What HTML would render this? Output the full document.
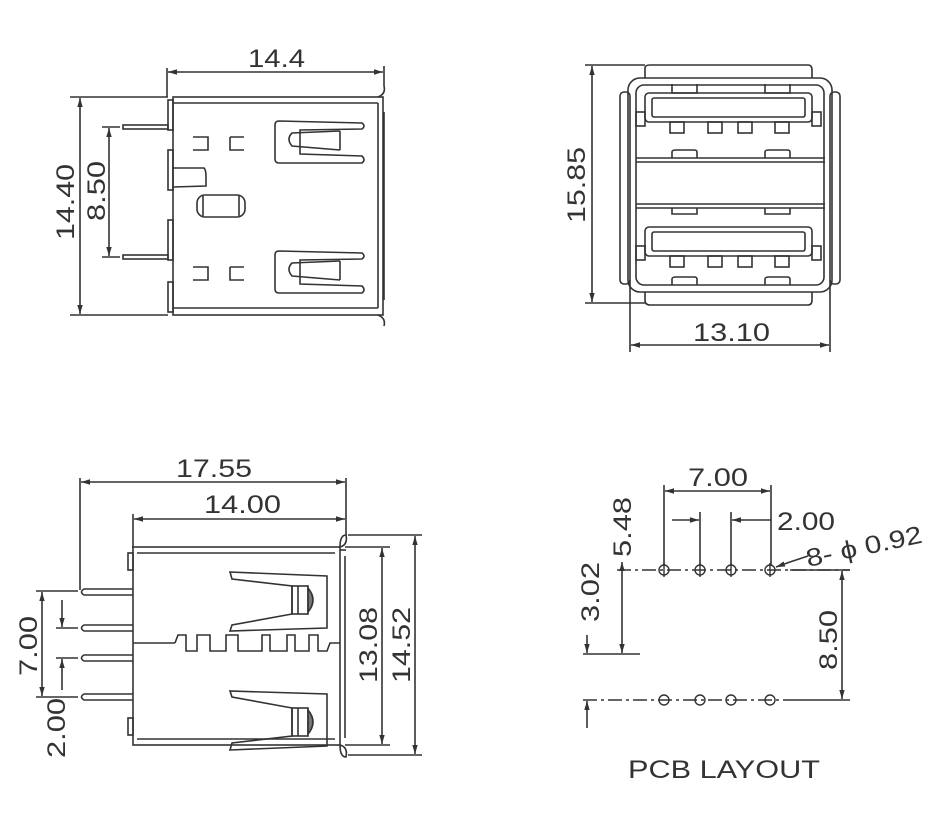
<!DOCTYPE html>
<html><head><meta charset="utf-8"><style>
html,body{margin:0;padding:0;background:#fff;}
svg{display:block;}
text{font-family:"Liberation Sans",sans-serif;fill:#333;}
</style></head><body>
<svg width="950" height="831" viewBox="0 0 950 831" xmlns="http://www.w3.org/2000/svg">
<defs>
<marker id="a" viewBox="0 0 10 10" refX="10" refY="5" markerWidth="9" markerHeight="9" orient="auto-start-reverse" markerUnits="userSpaceOnUse"><path d="M0,2 L10,5 L0,8 Z" fill="#333"/></marker>
<g id="tc">
<path d="M362,123 L279,121 Q275,121 275,125 L275,159 Q275,163 279,163 L362,163 Q366,160 362,156 L300,154 L300,130 L362,129 Q366,126 362,123 Z"/>
<path d="M340,131 L292,133 Q286,139 292,146 L340,150"/><line x1="340" y1="131" x2="340" y2="150"/>
</g>
<g id="bc">
<path d="M230,572 L327,576 L327,628 L230,631 L232,625 L292,614 L292,586 L232,579 Z"/>
<rect x="292" y="586" width="16" height="28"/><line x1="298" y1="586" x2="298" y2="614"/>
<path d="M308,588 Q318,600 308,612 Z" fill="#777"/>
</g>
</defs>
<g stroke="#333" stroke-width="1.6" fill="none">
<!-- TOP LEFT VIEW -->
<line x1="167" y1="68" x2="167" y2="97"/><line x1="384" y1="66" x2="384" y2="86"/>
<line x1="168" y1="72" x2="383" y2="72" marker-start="url(#a)" marker-end="url(#a)"/>
<rect x="173" y="97" width="210" height="218"/>
<line x1="173" y1="103" x2="378" y2="103"/><line x1="173" y1="308" x2="378" y2="308"/>
<line x1="378" y1="103" x2="378" y2="308"/>
<line x1="384" y1="112" x2="384" y2="300"/>
<path d="M378,97 Q386,94 384,86"/><path d="M378,315 Q386,318 384,326"/>
<rect x="168" y="100" width="5" height="30"/><rect x="168" y="150" width="5" height="40"/><rect x="168" y="220" width="5" height="40"/><rect x="168" y="282" width="5" height="30"/>
<rect x="123" y="125" width="45" height="4"/><rect x="123" y="255" width="45" height="4"/>
<line x1="70" y1="97" x2="168" y2="97"/><line x1="70" y1="315" x2="168" y2="315"/>
<line x1="80" y1="98" x2="80" y2="314" marker-start="url(#a)" marker-end="url(#a)"/>
<line x1="102" y1="127" x2="120" y2="127"/><line x1="102" y1="257" x2="120" y2="257"/>
<line x1="109" y1="128" x2="109" y2="256" marker-start="url(#a)" marker-end="url(#a)"/>
<path d="M173,168 L204,168 Q206,170 206,176 L206,186 L173,187"/>
<rect x="197" y="195" width="48" height="22" rx="8"/><line x1="203" y1="196" x2="203" y2="216"/><line x1="239" y1="196" x2="239" y2="216"/>
<path d="M193,137 L208,137 L208,150 L193,150 M230,137 L244,137 M230,137 L230,150 L244,150" />
<path d="M193,267 L208,267 L208,280 L193,280 M230,267 L244,267 M230,267 L230,280 L244,280" />
<use href="#tc"/><use href="#tc" transform="translate(0,130)"/>

<!-- TOP RIGHT VIEW -->
<line x1="585" y1="65" x2="645" y2="65"/><line x1="585" y1="303" x2="645" y2="303"/>
<line x1="592" y1="66" x2="592" y2="302" marker-start="url(#a)" marker-end="url(#a)"/>
<line x1="630" y1="280" x2="630" y2="352"/><line x1="830" y1="280" x2="830" y2="352"/>
<line x1="631" y1="345" x2="829" y2="345" marker-start="url(#a)" marker-end="url(#a)"/>
<rect x="628" y="78" width="204" height="214" rx="12"/>
<rect x="636" y="85" width="188" height="200" rx="8"/>
<path d="M645,78 L645,68 Q645,65 650,65 L808,65 Q812,65 812,70 L812,78"/>
<path d="M645,292 L645,300 Q645,305 650,305 L808,305 Q812,305 812,300 L812,292"/>
<rect x="620" y="92" width="10" height="192" rx="4"/><rect x="830" y="92" width="10" height="192" rx="4"/>
<line x1="636" y1="158" x2="825" y2="158"/><line x1="636" y1="162" x2="825" y2="162"/>
<line x1="636" y1="204" x2="825" y2="204"/><line x1="636" y1="208" x2="825" y2="208"/>
<g id="port">
<rect x="645" y="93" width="167" height="29" rx="4"/><rect x="652" y="98" width="153" height="19" rx="2"/>
<rect x="670" y="122" width="14" height="11"/><rect x="708" y="122" width="14" height="11"/><rect x="738" y="122" width="14" height="11"/><rect x="775" y="122" width="14" height="11"/>
<rect x="636" y="112" width="9" height="14"/><rect x="812" y="112" width="9" height="14"/>
</g>
<use href="#port" transform="translate(0,134)"/>
<path d="M672,84 L672,93 L697,93 L697,84"/><path d="M765,84 L765,93 L790,93 L790,84"/>
<path d="M672,158 L672,152 Q672,150 676,150 L694,150 Q697,150 697,152 L697,158"/><path d="M765,158 L765,152 Q765,150 769,150 L787,150 Q790,150 790,152 L790,158"/>
<path d="M672,208 L672,214 L697,214 L697,208"/><path d="M765,208 L765,214 L790,214 L790,208"/>
<path d="M672,285 L672,279 Q672,277 676,277 L694,277 Q697,277 697,279 L697,285"/><path d="M765,285 L765,279 Q765,277 769,277 L787,277 Q790,277 790,279 L790,285"/>

<!-- BOTTOM LEFT VIEW -->
<line x1="80" y1="478" x2="80" y2="590"/><line x1="346" y1="478" x2="346" y2="536"/>
<line x1="81" y1="482" x2="345" y2="482" marker-start="url(#a)" marker-end="url(#a)"/>
<line x1="133" y1="514" x2="133" y2="548"/>
<line x1="134" y1="519" x2="345" y2="519" marker-start="url(#a)" marker-end="url(#a)"/>
<rect x="133" y="547" width="207" height="198"/>
<line x1="137" y1="553" x2="335" y2="553"/><line x1="137" y1="739" x2="335" y2="739"/>
<line x1="340" y1="550" x2="346" y2="550"/><line x1="345" y1="556" x2="345" y2="738"/>
<path d="M340,547 Q348,545 346,535 Q340,535 340,547"/><path d="M340,745 Q348,747 346,757 Q340,757 340,745"/>
<rect x="128" y="553" width="5" height="17"/><rect x="128" y="718" width="5" height="17"/>
<path d="M133,589 L84,589 Q79,592 84,595 L133,595"/>
<path d="M133,625 L84,625 Q79,628 84,631 L133,631"/>
<path d="M133,655 L84,655 Q79,658 84,661 L133,661"/>
<path d="M133,694 L84,694 Q79,697 84,700 L133,700"/>
<line x1="133" y1="643" x2="175" y2="643"/>
<path d="M175,643 L178,635 L186,635 L186,651 L197,651 L197,635 L210,635 L210,651 L226,651 L226,635 L238,635 L238,651 L262,651 L262,635 L270,635 L270,651 L287,651 L287,635 L295,635 L295,651 L309,651 L309,635 L318,635 L318,651 L327,651 L330,643 L340,643"/>
<use href="#bc"/><use href="#bc" transform="translate(0,1322) scale(1,-1)"/>
<line x1="345" y1="547" x2="390" y2="547"/><line x1="345" y1="745" x2="390" y2="745"/>
<line x1="382" y1="548" x2="382" y2="744" marker-start="url(#a)" marker-end="url(#a)"/>
<line x1="348" y1="535" x2="422" y2="535"/><line x1="348" y1="755" x2="422" y2="755"/>
<line x1="415" y1="536" x2="415" y2="754" marker-start="url(#a)" marker-end="url(#a)"/>
<line x1="36" y1="591" x2="78" y2="591"/><line x1="36" y1="697" x2="78" y2="697"/>
<line x1="42" y1="592" x2="42" y2="696" marker-start="url(#a)" marker-end="url(#a)"/>
<line x1="56" y1="628" x2="78" y2="628"/><line x1="56" y1="658" x2="78" y2="658"/>
<line x1="62" y1="600" x2="62" y2="627" marker-end="url(#a)"/>
<line x1="62" y1="690" x2="62" y2="659" marker-end="url(#a)"/>

<!-- PCB LAYOUT -->
<line x1="664" y1="485" x2="664" y2="565"/><line x1="771" y1="485" x2="771" y2="565"/>
<line x1="665" y1="491" x2="770" y2="491" marker-start="url(#a)" marker-end="url(#a)"/>
<line x1="700" y1="512" x2="700" y2="565"/><line x1="731" y1="512" x2="731" y2="565"/>
<line x1="672" y1="520" x2="699" y2="520" marker-end="url(#a)"/>
<line x1="771" y1="520" x2="732" y2="520" marker-end="url(#a)"/>
<line x1="617" y1="570" x2="850" y2="570" stroke-dasharray="14,4,3,4"/>
<line x1="583" y1="700" x2="790" y2="700" stroke-dasharray="14,4,3,4"/>
<line x1="790" y1="570" x2="850" y2="570"/><line x1="790" y1="700" x2="850" y2="700"/>
<line x1="842" y1="571" x2="842" y2="699" marker-start="url(#a)" marker-end="url(#a)"/>
<line x1="583" y1="654" x2="640" y2="654"/>
<line x1="622" y1="562" x2="622" y2="653" marker-start="url(#a)" marker-end="url(#a)"/>
<line x1="587" y1="635" x2="587" y2="653" marker-end="url(#a)"/>
<line x1="587" y1="728" x2="587" y2="701" marker-end="url(#a)"/>
<line x1="790" y1="562" x2="808" y2="556"/><line x1="790" y1="562" x2="776" y2="567" marker-end="url(#a)"/>
<g stroke-width="1.4">
<circle cx="664" cy="570" r="5"/><circle cx="700" cy="570" r="5"/><circle cx="731" cy="570" r="5"/><circle cx="770" cy="570" r="5"/>
<circle cx="664" cy="700" r="5"/><circle cx="700" cy="700" r="5"/><circle cx="731" cy="700" r="5"/><circle cx="770" cy="700" r="5"/>
<path d="M664,563 v14 M700,563 v14 M731,563 v14 M770,563 v14"/>
</g>
</g>
<g font-size="25">
<text x="248" y="67" textLength="57" lengthAdjust="spacingAndGlyphs">14.4</text>
<text transform="translate(74,240) rotate(-90)" textLength="76" lengthAdjust="spacingAndGlyphs">14.40</text>
<text transform="translate(105,221) rotate(-90)" textLength="60" lengthAdjust="spacingAndGlyphs">8.50</text>
<text transform="translate(585,223) rotate(-90)" textLength="76" lengthAdjust="spacingAndGlyphs">15.85</text>
<text x="693" y="341" textLength="77" lengthAdjust="spacingAndGlyphs">13.10</text>
<text x="176" y="477" textLength="76" lengthAdjust="spacingAndGlyphs">17.55</text>
<text x="204" y="513" textLength="77" lengthAdjust="spacingAndGlyphs">14.00</text>
<text transform="translate(377,683) rotate(-90)" textLength="76" lengthAdjust="spacingAndGlyphs">13.08</text>
<text transform="translate(410,683) rotate(-90)" textLength="76" lengthAdjust="spacingAndGlyphs">14.52</text>
<text transform="translate(37,676) rotate(-90)" textLength="60" lengthAdjust="spacingAndGlyphs">7.00</text>
<text transform="translate(65,758) rotate(-90)" textLength="60" lengthAdjust="spacingAndGlyphs">2.00</text>
<text x="688" y="486" textLength="60" lengthAdjust="spacingAndGlyphs">7.00</text>
<text x="777" y="530" textLength="58" lengthAdjust="spacingAndGlyphs">2.00</text>
<text transform="translate(808,567) rotate(-12)" textLength="118" lengthAdjust="spacingAndGlyphs">8- ϕ 0.92</text>
<text transform="translate(631,557) rotate(-90)" textLength="60" lengthAdjust="spacingAndGlyphs">5.48</text>
<text transform="translate(599,622) rotate(-90)" textLength="60" lengthAdjust="spacingAndGlyphs">3.02</text>
<text transform="translate(837,670) rotate(-90)" textLength="60" lengthAdjust="spacingAndGlyphs">8.50</text>
<text x="628" y="778" textLength="192" lengthAdjust="spacingAndGlyphs">PCB LAYOUT</text>
</g>
</svg>
</body></html>
